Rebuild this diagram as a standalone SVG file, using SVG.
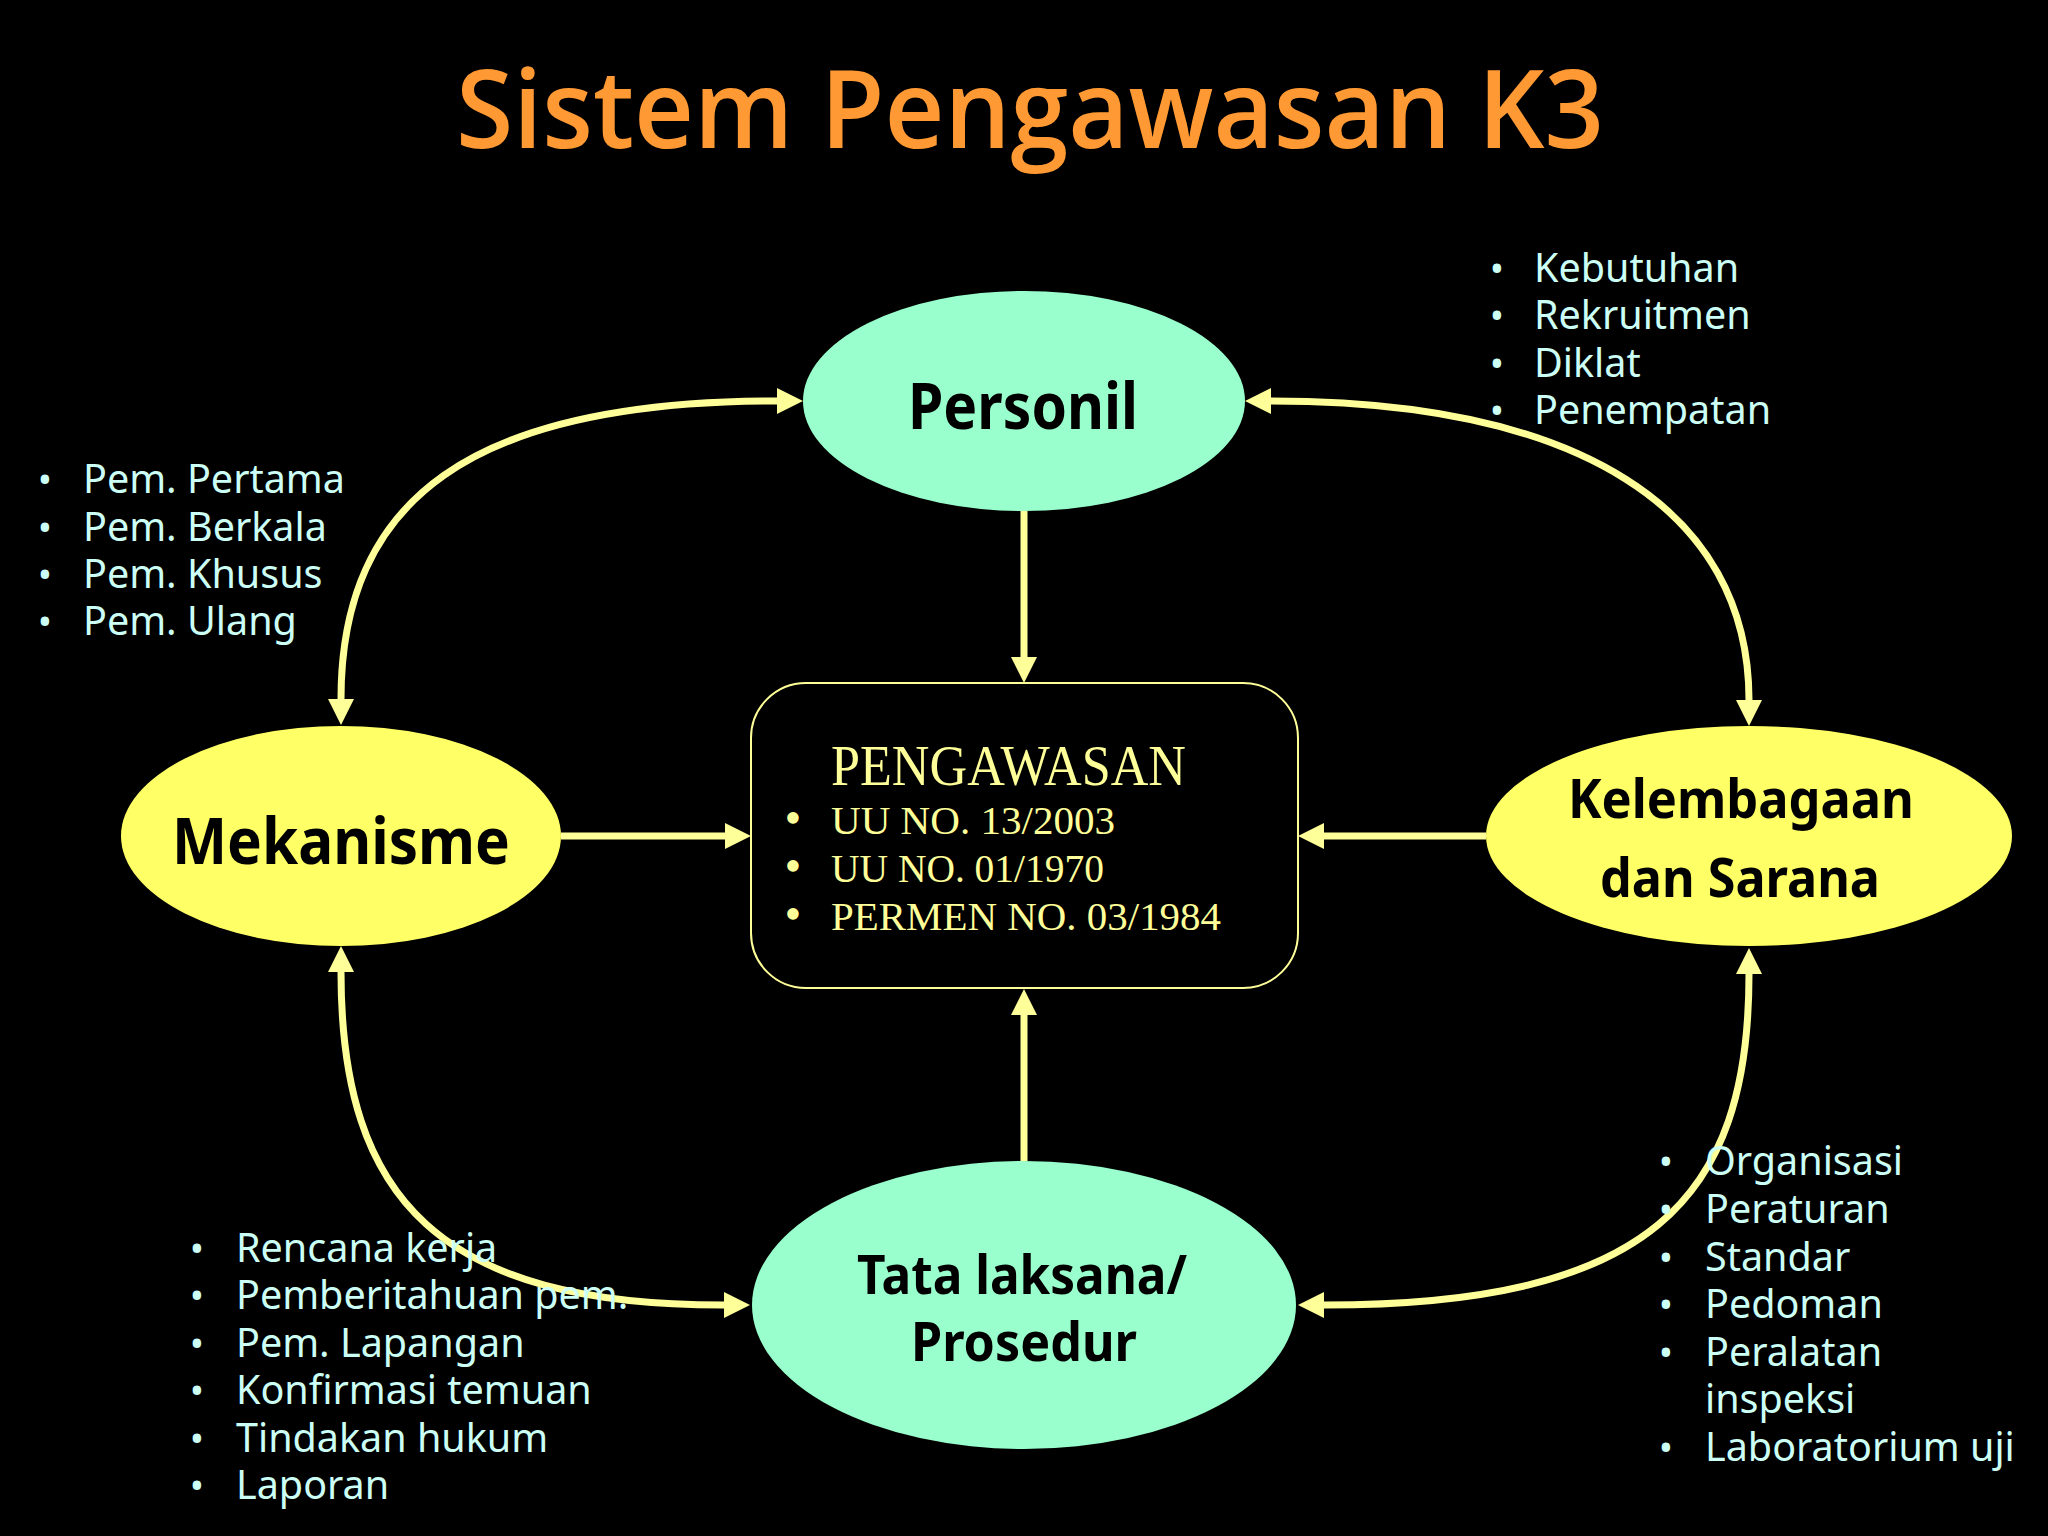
<svg xmlns="http://www.w3.org/2000/svg" width="2048" height="1536" viewBox="0 0 2048 1536">
  <style>
    .title { font-family: "Open Sans", "Noto Sans", sans-serif; font-weight: 600; font-size: 109px; fill: #FF9933; }
    .node { font-family: "Noto Sans", "Open Sans", sans-serif; font-weight: 700; fill: #000000; text-anchor: start; }
    .mint { fill: #99FFCC; }
    .yel { fill: #FFFF66; }
    .list { font-family: "Noto Sans", "Open Sans", sans-serif; font-size: 39.5px; fill: #CCFFF5; }
    .bul { font-family: "Noto Sans", sans-serif; font-size: 38px; fill: #CCFFF5; text-anchor: middle; }
    .box { font-family: "Liberation Serif", "DejaVu Serif", serif; fill: #FFFF99; }
    .conn { fill: none; stroke: #FFFF99; stroke-width: 7; }
  </style>
  <defs>
    <marker id="ah" markerUnits="userSpaceOnUse" viewBox="0 0 26 26" markerWidth="26" markerHeight="26" refX="0" refY="13" orient="auto-start-reverse">
      <path d="M0,0 L26,13 L0,26 z" fill="#FFFF99"/>
    </marker>
  </defs>
  <rect x="0" y="0" width="2048" height="1536" fill="#000000"/>

  <text class="title" x="456" y="148" textLength="1148" lengthAdjust="spacingAndGlyphs">Sistem Pengawasan K3</text>

  <g id="connectors">
    <path class="conn" d="M777,401 C470,401 341,500 341,699" marker-start="url(#ah)" marker-end="url(#ah)"/>
    <path class="conn" d="M1271,401 C1580,401 1749,510 1749,700" marker-start="url(#ah)" marker-end="url(#ah)"/>
    <path class="conn" d="M341,972 C341,1200 440,1305 724,1305" marker-start="url(#ah)" marker-end="url(#ah)"/>
    <path class="conn" d="M1749,974 C1749,1200 1650,1305 1324,1305" marker-start="url(#ah)" marker-end="url(#ah)"/>
    <path class="conn" d="M1024,511 L1024,657" marker-end="url(#ah)"/>
    <path class="conn" d="M561,836 L725,836" marker-end="url(#ah)"/>
    <path class="conn" d="M1486,836 L1324,836" marker-end="url(#ah)"/>
    <path class="conn" d="M1024,1161 L1024,1015" marker-end="url(#ah)"/>
  </g>

  <g id="pengawasan">
    <rect x="751" y="683" width="547" height="305" rx="55" ry="55" fill="#000000" stroke="#FFFF99" stroke-width="2"/>
    <text class="box" x="831" y="785" font-size="56" textLength="355" lengthAdjust="spacingAndGlyphs">PENGAWASAN</text>
    <text class="box" x="793" y="834" font-size="48" text-anchor="middle">•</text>
    <text class="box" x="831" y="834" font-size="41" textLength="284" lengthAdjust="spacingAndGlyphs">UU NO. 13/2003</text>
    <text class="box" x="793" y="882" font-size="48" text-anchor="middle">•</text>
    <text class="box" x="831" y="882" font-size="41" textLength="273" lengthAdjust="spacingAndGlyphs">UU NO. 01/1970</text>
    <text class="box" x="793" y="930" font-size="48" text-anchor="middle">•</text>
    <text class="box" x="831" y="930" font-size="41" textLength="390" lengthAdjust="spacingAndGlyphs">PERMEN NO. 03/1984</text>
  </g>

  <g id="personil">
    <ellipse class="mint" cx="1024" cy="401" rx="221" ry="110"/>
    <text class="node" x="908" y="429" font-size="65" textLength="230" lengthAdjust="spacingAndGlyphs">Personil</text>
  </g>

  <g id="mekanisme">
    <ellipse class="yel" cx="341" cy="836" rx="220" ry="110"/>
    <text class="node" x="172" y="864" font-size="65" textLength="338" lengthAdjust="spacingAndGlyphs">Mekanisme</text>
  </g>

  <g id="kelembagaan">
    <ellipse class="yel" cx="1749" cy="836" rx="263" ry="110"/>
    <text class="node" x="1568" y="818" font-size="53" textLength="346" lengthAdjust="spacingAndGlyphs">Kelembagaan</text>
    <text class="node" x="1600" y="897" font-size="53" textLength="280" lengthAdjust="spacingAndGlyphs">dan Sarana</text>
  </g>

  <g id="tatalaksana">
    <ellipse class="mint" cx="1024" cy="1305" rx="272" ry="144"/>
    <text class="node" x="857" y="1294" font-size="53" textLength="330" lengthAdjust="spacingAndGlyphs">Tata laksana/</text>
    <text class="node" x="911" y="1361" font-size="53" textLength="226" lengthAdjust="spacingAndGlyphs">Prosedur</text>
  </g>

  <g id="list-mekanisme">
    <text class="bul" x="45" y="493">•</text><text class="list" x="83" y="493">Pem. Pertama</text>
    <text class="bul" x="45" y="541">•</text><text class="list" x="83" y="541">Pem. Berkala</text>
    <text class="bul" x="45" y="588">•</text><text class="list" x="83" y="588">Pem. Khusus</text>
    <text class="bul" x="45" y="635">•</text><text class="list" x="83" y="635">Pem. Ulang</text>
  </g>

  <g id="list-personil">
    <text class="bul" x="1497" y="282">•</text><text class="list" x="1534" y="282">Kebutuhan</text>
    <text class="bul" x="1497" y="329">•</text><text class="list" x="1534" y="329">Rekruitmen</text>
    <text class="bul" x="1497" y="377">•</text><text class="list" x="1534" y="377">Diklat</text>
    <text class="bul" x="1497" y="424">•</text><text class="list" x="1534" y="424">Penempatan</text>
  </g>

  <g id="list-tatalaksana">
    <text class="bul" x="197" y="1262">•</text><text class="list" x="236" y="1262">Rencana kerja</text>
    <text class="bul" x="197" y="1309">•</text><text class="list" x="236" y="1309">Pemberitahuan pem.</text>
    <text class="bul" x="197" y="1357">•</text><text class="list" x="236" y="1357">Pem. Lapangan</text>
    <text class="bul" x="197" y="1404">•</text><text class="list" x="236" y="1404">Konfirmasi temuan</text>
    <text class="bul" x="197" y="1452">•</text><text class="list" x="236" y="1452">Tindakan hukum</text>
    <text class="bul" x="197" y="1499">•</text><text class="list" x="236" y="1499">Laporan</text>
  </g>

  <g id="list-kelembagaan">
    <text class="bul" x="1666" y="1175">•</text><text class="list" x="1705" y="1175">Organisasi</text>
    <text class="bul" x="1666" y="1223">•</text><text class="list" x="1705" y="1223">Peraturan</text>
    <text class="bul" x="1666" y="1271">•</text><text class="list" x="1705" y="1271">Standar</text>
    <text class="bul" x="1666" y="1318">•</text><text class="list" x="1705" y="1318">Pedoman</text>
    <text class="bul" x="1666" y="1366">•</text><text class="list" x="1705" y="1366">Peralatan</text>
    <text class="list" x="1705" y="1413">inspeksi</text>
    <text class="bul" x="1666" y="1461">•</text><text class="list" x="1705" y="1461">Laboratorium uji</text>
  </g>
</svg>
